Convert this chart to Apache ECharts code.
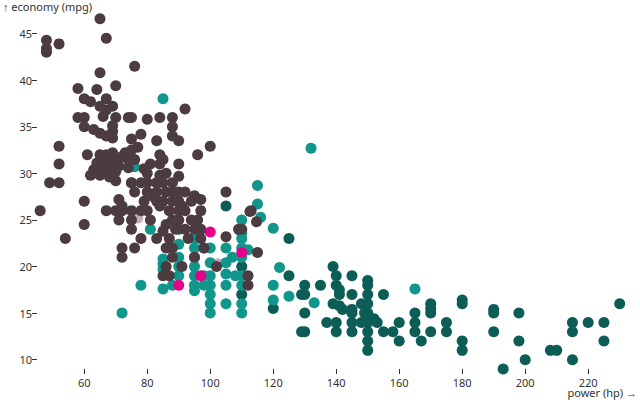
<!DOCTYPE html>
<html><head><meta charset="utf-8">
<script src="https://cdn.jsdelivr.net/npm/echarts@6/dist/echarts.min.js"></script>
<style>html,body{margin:0;padding:0;background:#fff}#c{width:640px;height:400px}</style>
</head><body><div id="c"></div>
<script>
const xTicks=[60,80,100,120,140,160,180,200,220];
const yTicks=[10,15,20,25,30,35,40,45];
const cyl8=[[125,23],[139,20],[140,19],[125,19],[145,19],[150,18.5],[150,18],[150,17],[150,16],[150,15],[150,14],[150,13],[150,11],[135,18],[130,18],[129,17],[130,17],[140,18],[141,17.5],[141,17],[139,16],[141,15.8],[145,17],[155,17],[142,15.4],[145,15.4],[145,15],[148,16],[149,15],[130,15],[137,14],[140,14],[140,13],[148,14],[152,14.4],[153,14],[129,13],[130,13],[145,13],[155,13],[158,13],[160,14],[160,12],[165,15],[165,14],[165,13],[167,12],[170,16],[170,15.5],[170,15],[170,13],[175,14],[175,13],[180,16.4],[180,16],[180,12],[180,11],[190,15.4],[190,15],[190,13],[193,9],[198,15],[198,12],[200,10],[208,11],[210,11],[215,14],[215,13],[215,10],[220,14],[225,14],[225,12],[230,16],[120,15.5],[90,24],[105,26.5],[110,20],[110,17],[150,14.5],[145,14],[150,12]];
const cyl6=[[115,28.7],[115,26.7],[116,25.3],[120,24.1],[122,19.9],[120,18],[120,16.4],[125,16.8],[133,16.1],[165,17.6],[132,32.7],[76,30.7],[81,24],[72,15],[78,18],[85,20.8],[85,20.3],[85,19.7],[85,17.6],[90,21],[90,20],[90,19],[90,22.4],[95,23],[95,22],[95,21],[95,20],[95,19],[95,18],[95,17.4],[98,22],[98,19],[98,18],[100,22],[100,20.4],[100,19],[100,18],[100,17],[100,16],[100,15],[105,22],[105,20.4],[105,19.2],[105,18],[105,16],[107,21],[108,19],[110,25],[110,23.6],[110,23],[110,22],[110,21],[110,19],[110,18],[110,16],[110,15],[112,21.8],[85,38],[88,18]];
const cyl5=[[100,23.7],[110,21.5],[97,19],[90,18]];
const cyl3=[[77,25.2],[102.5,20.3]];
const cyl4=[[65,46.6],[67,44.5],[48,44.3],[48,43.4],[48,43],[52,43.9],[76,41.5],[65,40.8],[58,39.1],[64,39],[70,39.4],[60,38],[62,37.7],[67,38],[65,37.2],[69,37.2],[67,36.8],[92,36.9],[58,36],[60,36],[66,36.1],[70,36],[74,36],[75,36],[80,35.8],[84,36],[88,36],[60,35],[63,34.7],[65,34.3],[67,34],[69,35.1],[69,34.5],[69,33.8],[78,34.2],[75,33.7],[88,35],[88,34],[90,33.5],[83,33.5],[100,32.9],[52,32.9],[52,31],[61,32],[65,32],[67,32],[69,32.2],[73,32.2],[75,32.5],[84,32],[96,32],[64,31.1],[66,30.7],[68,31],[70,31.4],[74,31.5],[81,31],[84,31],[62,29.8],[65,29.8],[68,29.6],[70,29.2],[79,30.5],[80,30],[84,29.8],[90,29.7],[49,29],[52,29],[75,29],[78,29],[83,29],[67,30.5],[71,30.8],[72,31.8],[76,31.5],[77,32.8],[67,31.6],[63,30.4],[70,30.2],[74,30.6],
[46,26],[60,27],[60,24.5],[54,23],[71,27.2],[72,26.5],[67,26],[70,26],[72,26],[71,25],[75,29],[76,28],[75,26],[75,25],[75,24],[78,23],[72,22],[72,21],[76,22],[78,26],[80,26],[81,25],[80,29],[80,28],[83,29],[83,28],[85,29],[83,27],[85,27],[86,28],[88,28],[90,28],[92,28],[88,27],[90,27],[90,26],[88,25],[90,25],[92,26],[94,25],[95,24],[96,25],[95,27.6],[97,27.2],[83,23],[85,23.8],[86,22],[87,23],[88,22],[88,21],[85,19],[87,19],[91,20],[86,20],[95,21],[97,24],[97,23],[98,22],[102,20],[105,28],[105,23.2],[110,24],[112,19],[112,18],[113,26],[112.6,25.9],[114.7,24.8],[115,21.5],[109,24],[87,26],[89,24],[92,24],[93,23],[86,24.5],[91,26.5],[94,27],[97,26],[84,26.5],[82,27.5],[79,27],[88,29],[86,30],[90,31],[85,31.5]];
const sym=11;
const mk=(d,c)=>({type:'scatter',data:d,symbolSize:sym,itemStyle:{color:c,opacity:1},emphasis:{disabled:true}});
const txt={color:'#333',fontSize:11,fontFamily:'Noto Sans'};
const chart=echarts.init(document.getElementById('c'),null,{renderer:'svg'});
chart.setOption({
 animation:false,
 grid:{left:37,right:14,top:15,bottom:31},
 xAxis:{type:'value',min:45,max:232,interval:20,
  axisLine:{show:false},splitLine:{show:false},
  axisTick:{show:true,length:5,lineStyle:{color:'#333'},customValues:xTicks},
  axisLabel:{...txt,margin:8,customValues:xTicks}},
 yAxis:{type:'value',min:9,max:47,
  axisLine:{show:false},splitLine:{show:false},
  axisTick:{show:true,length:5,lineStyle:{color:'#333'},customValues:yTicks},
  axisLabel:{...txt,margin:5,customValues:yTicks}},
 series:[mk(cyl3,'#c6adb4'),mk(cyl8,'#0b5d56'),mk(cyl6,'#11968c'),mk(cyl4,'#4c3c42'),mk(cyl5,'#e5008a')],
 graphic:[
  {type:'text',left:3,top:1,style:{text:'↑ economy (mpg)',fill:'#333',font:'11px "Noto Sans"'}},
  {type:'text',right:3,top:387,style:{text:'power (hp) →',fill:'#333',font:'11px "Noto Sans"'}}
 ]
});
</script></body></html>
